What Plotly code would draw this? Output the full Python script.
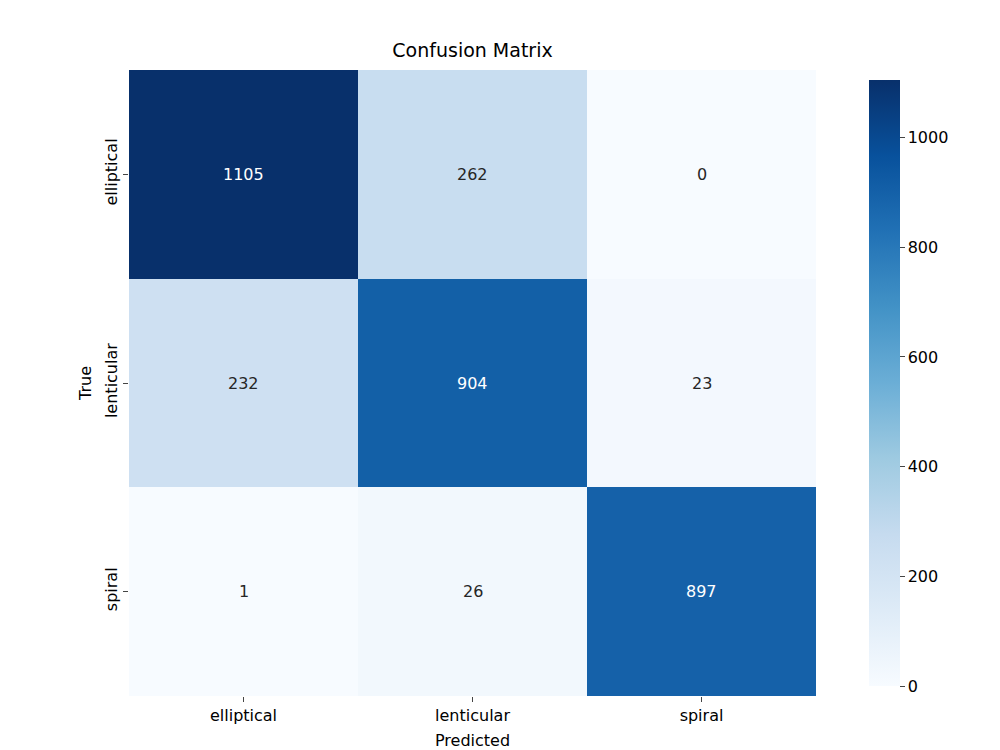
import plotly.graph_objects as go

classes = ["elliptical", "lenticular", "spiral"]
matrix = [[1105, 262, 0],
          [232, 904, 23],
          [1, 26, 897]]

blues = [[0.0, "#f7fbff"], [0.125, "#deebf7"], [0.25, "#c6dbef"], [0.375, "#9ecae1"],
         [0.5, "#6baed6"], [0.625, "#4292c6"], [0.75, "#2171b5"], [0.875, "#08519c"],
         [1.0, "#08306b"]]

zmax = max(max(r) for r in matrix)
fig = go.Figure(go.Heatmap(
    z=matrix, x=classes, y=classes, colorscale=blues, zmin=0, zmax=zmax,
    xgap=0, ygap=0,
    colorbar=dict(x=1.0626, xanchor="left", thickness=31, len=1, lenmode="fraction",
                  y=0.5, yanchor="middle", outlinewidth=0, ticks="outside", ticklen=5,
                  tickvals=[0, 200, 400, 600, 800, 1000],
                  tickfont=dict(size=16, color="black", family="DejaVu Sans")),
    hoverinfo="skip"))

for i, row in enumerate(matrix):
    for j, v in enumerate(row):
        fig.add_annotation(x=classes[j], y=classes[i], text=str(v), showarrow=False,
                           font=dict(size=16, family="DejaVu Sans",
                                     color="white" if v > zmax / 2 else "#262626"))

fig.update_layout(
    width=1000, height=750, plot_bgcolor="white", paper_bgcolor="white",
    margin=dict(l=121, r=192, t=62, b=48),
    title=dict(text="Confusion Matrix", x=0.4645, xanchor="center", y=0.943, yanchor="middle",
               font=dict(size=19, color="black", family="DejaVu Sans")),
    font=dict(family="DejaVu Sans", color="black"),
    xaxis=dict(title=dict(text="Predicted", font=dict(size=16), standoff=10),
               ticks="outside", ticklen=5, tickfont=dict(size=16), showgrid=False),
    yaxis=dict(title=dict(text="True", font=dict(size=16), standoff=5),
               autorange="reversed", ticks="outside", ticklen=5, tickangle=-90,
               tickfont=dict(size=16), showgrid=False),
)
fig.write_html("out.html")
